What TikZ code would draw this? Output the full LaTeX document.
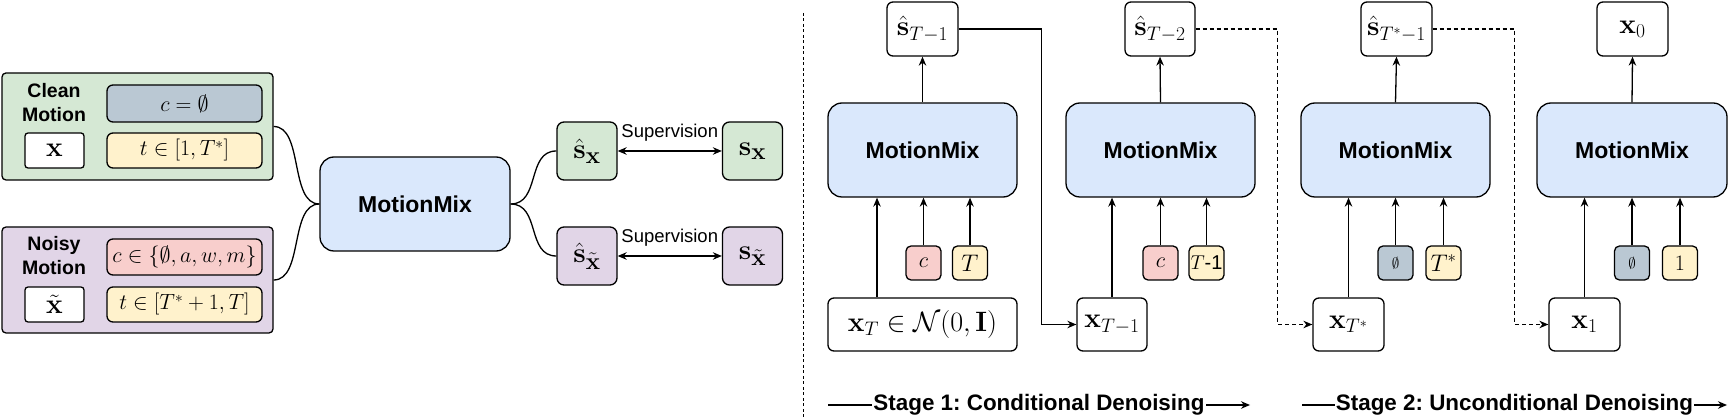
\RequirePackage{fix-cm}
\documentclass[tikz,border=0pt]{standalone}
\usepackage[no-math]{fontspec}
\setmainfont{Liberation Sans}
\usetikzlibrary{arrows.meta}
\frenchspacing
\definecolor{cgreen}{HTML}{D5E8D4}
\definecolor{cpurple}{HTML}{E1D5E7}
\definecolor{cblue}{HTML}{DAE8FC}
\definecolor{cyellow}{HTML}{FFF2CC}
\definecolor{cred}{HTML}{F8CECC}
\definecolor{cgray}{HTML}{BAC8D3}
\newcommand\mysubx[1]{\mbox{\fontsize{24}{24}\selectfont$#1$}}
\tikzset{
  bx/.style={draw=black, line width=1.3pt, inner sep=0pt, align=center},
  container/.style={bx, rounded corners=4pt},
  mmbox/.style={bx, fill=cblue, rounded corners=14pt, minimum width=189pt, minimum height=94pt, font=\fontsize{23}{27}\selectfont\bfseries},
  outbox/.style={bx, fill=white, rounded corners=6pt, minimum width=71pt, minimum height=54pt, font=\fontsize{28}{32}\selectfont},
  inbox/.style={bx, fill=white, rounded corners=6pt, minimum height=53pt, font=\fontsize{28}{32}\selectfont},
  sbox/.style={bx, rounded corners=5pt, minimum width=35pt, minimum height=34pt},
  condbox/.style={bx, rounded corners=6pt, minimum width=155pt, font=\fontsize{22}{26}\selectfont},
  supbox/.style={bx, rounded corners=7pt, minimum width=60pt, minimum height=58pt, font=\fontsize{28}{32}\selectfont},
  head/.style={font=\fontsize{19.5}{24}\selectfont\bfseries, align=center, inner sep=0pt},
  conn/.style={line width=1.3pt, -{Stealth[length=9pt,width=7.5pt]}},
  dconn/.style={conn, dash pattern=on 4pt off 3pt},
  curve/.style={line width=1.3pt},
}
\begin{document}
\begin{tikzpicture}[x=1pt,y=-1pt]
\useasboundingbox (0,0) rectangle (1732,419);
% ---------------- left part ----------------
\node[container, fill=cgreen, minimum width=271pt, minimum height=107pt] (clean) at (137.5,126.5) {};
\node[head] (cleanlbl) at (54,103) {Clean\\Motion};
\node[condbox, fill=cgray, minimum height=37pt] (cz) at (184.5,103.5) {$c=\emptyset$};
\node[condbox, fill=cyellow, minimum height=35pt] (t1) at (184.5,150.5) {$t\in[1,T^*]$};
\node[bx, fill=white, rounded corners=3pt, minimum width=59pt, minimum height=35pt, font=\fontsize{28}{32}\selectfont] (xb) at (54.5,150.5) {$\mathbf{x}$};

\node[container, fill=cpurple, minimum width=271pt, minimum height=106pt] (noisy) at (137.5,280) {};
\node[head] (noisylbl) at (54,256) {Noisy\\Motion};
\node[condbox, fill=cred, minimum height=36pt] (cn) at (184.5,257) {$c\in\{\emptyset,a,w,m\}$};
\node[condbox, fill=cyellow, minimum height=35pt] (t2) at (184.5,304.5) {$t\in[T^*+1,T]$};
\node[bx, fill=white, rounded corners=3pt, minimum width=59pt, minimum height=35pt, font=\fontsize{28}{32}\selectfont] (xtb) at (54.5,304.5) {$\tilde{\mathbf{x}}$};

\node[mmbox, minimum width=190pt] (mmL) at (415,204) {MotionMix};

\node[supbox, fill=cgreen] (shx) at (587,151) {$\hat{\mathbf{s}}_{\mysubx{\mathbf{x}}}$};
\node[supbox, fill=cgreen] (sx) at (752.5,151) {$\mathbf{s}_{\mysubx{\mathbf{x}}}$};
\node[supbox, fill=cpurple] (shxt) at (587,256) {$\hat{\mathbf{s}}_{\mysubx{\tilde{\mathbf{x}}}}$};
\node[supbox, fill=cpurple] (sxt) at (752.5,256) {$\mathbf{s}_{\mysubx{\tilde{\mathbf{x}}}}$};

\draw[curve] (clean.east) .. controls +(30,0) and +(-30,0) .. (mmL.west);
\draw[curve] (noisy.east) .. controls +(30,0) and +(-30,0) .. (mmL.west);
\draw[curve] (mmL.east) .. controls +(30,0) and +(-30,0) .. (shx.west);
\draw[curve] (mmL.east) .. controls +(30,0) and +(-30,0) .. (shxt.west);

\draw[line width=1.3pt, {Stealth[length=9pt,width=7.5pt]}-{Stealth[length=9pt,width=7.5pt]}] (shx.east) -- (sx.west)
  node[midway, yshift=18pt, font=\fontsize{18.5}{22}\selectfont, inner sep=0pt] {Supervision};
\draw[line width=1.3pt, {Stealth[length=9pt,width=7.5pt]}-{Stealth[length=9pt,width=7.5pt]}] (shxt.east) -- (sxt.west)
  node[midway, yshift=18pt, font=\fontsize{18.5}{22}\selectfont, inner sep=0pt] {Supervision};

% separator
\draw[line width=0.9pt, dash pattern=on 3pt off 2.5pt] (803,13) -- (803,419);

% ---------------- right part ----------------
% step 1
\node[outbox] (sh1) at (922.5,29) {$\hat{\mathbf{s}}_{T-1}$};
\node[mmbox] (mm1) at (922.5,150) {MotionMix};
\node[sbox, fill=cred, font=\fontsize{22}{26}\selectfont] (c1) at (923.5,263) {$c$};
\node[sbox, fill=cyellow, font=\fontsize{24}{28}\selectfont] (T1) at (970,263) {$T$};
\node[inbox, minimum width=189pt] (xT) at (922.5,324.5) {$\mathbf{x}_T\in\mathcal{N}(0,\mathbf{I})$};
% step 2
\node[outbox, minimum width=70pt] (sh2) at (1160,29) {$\hat{\mathbf{s}}_{T-2}$};
\node[mmbox] (mm2) at (1160.5,150) {MotionMix};
\node[sbox, fill=cred, font=\fontsize{22}{26}\selectfont] (c2) at (1160.5,263) {$c$};
\node[sbox, fill=cyellow, font=\fontsize{20}{24}\selectfont] (T2) at (1206.5,263) {$T$-1};
\node[inbox, minimum width=70pt] (xT1) at (1112,324.5) {$\mathbf{x}_{T-1}$};
% step 3
\node[outbox] (sh3) at (1396.5,29) {$\hat{\mathbf{s}}_{T^*-1}$};
\node[mmbox] (mm3) at (1395.5,150) {MotionMix};
\node[sbox, fill=cgray, font=\fontsize{15}{18}\selectfont] (e3) at (1395.5,263) {$\emptyset$};
\node[sbox, fill=cyellow, font=\fontsize{24}{28}\selectfont] (T3) at (1443.5,263) {$T^*$};
\node[inbox, minimum width=71pt] (xTs) at (1348.5,324.5) {$\mathbf{x}_{T^*}$};
% step 4
\node[outbox] (x0) at (1632.5,29) {$\mathbf{x}_0$};
\node[mmbox, minimum width=190pt] (mm4) at (1632,150) {MotionMix};
\node[sbox, fill=cgray, font=\fontsize{15}{18}\selectfont] (e4) at (1632,263) {$\emptyset$};
\node[sbox, fill=cyellow, font=\fontsize{22}{26}\selectfont] (one4) at (1680,263) {$1$};
\node[inbox, minimum width=71pt] (x1) at (1584.5,324.5) {$\mathbf{x}_1$};

% vertical arrows
\draw[conn] (mm1.north) -- (sh1.south);
\draw[conn] (c1.north) -- (c1.north |- mm1.south);
\draw[conn] (T1.north) -- (T1.north |- mm1.south);
\draw[conn] ([xshift=-45.5pt]xT.north) -- ([xshift=-45.5pt]xT.north |- mm1.south);

\draw[conn] (mm2.north) -- (sh2.south);
\draw[conn] (c2.north) -- (c2.north |- mm2.south);
\draw[conn] (T2.north) -- (T2.north |- mm2.south);
\draw[conn] (xT1.north) -- (xT1.north |- mm2.south);

\draw[conn] (mm3.north) -- (sh3.south);
\draw[conn] (e3.north) -- (e3.north |- mm3.south);
\draw[conn] (T3.north) -- (T3.north |- mm3.south);
\draw[conn] (xTs.north) -- (xTs.north |- mm3.south);

\draw[conn] (mm4.north) -- (x0.south);
\draw[conn] (e4.north) -- (e4.north |- mm4.south);
\draw[conn] (one4.north) -- (one4.north |- mm4.south);
\draw[conn] (x1.north) -- (x1.north |- mm4.south);

% step links
\draw[conn] (sh1.east) -- ++(83,0) |- (xT1.west);
\draw[dconn] (sh2.east) -- ++(82,0) |- (xTs.west);
\draw[dconn] (sh3.east) -- ++(82,0) |- (x1.west);

% stage arrows
\coordinate (s1a) at (828,405);
\coordinate (s1b) at (1250,405);
\coordinate (s2a) at (1302,405);
\coordinate (s2b) at (1727,405);
\draw[conn] (s1a) -- (s1b) node[midway, fill=white, inner sep=1pt, font=\fontsize{22.4}{26}\selectfont\bfseries] {Stage 1: Conditional Denoising};
\draw[conn] (s2a) -- (s2b) node[midway, fill=white, inner sep=1pt, font=\fontsize{22.4}{26}\selectfont\bfseries] {Stage 2: Unconditional Denoising};
\end{tikzpicture}
\end{document}
